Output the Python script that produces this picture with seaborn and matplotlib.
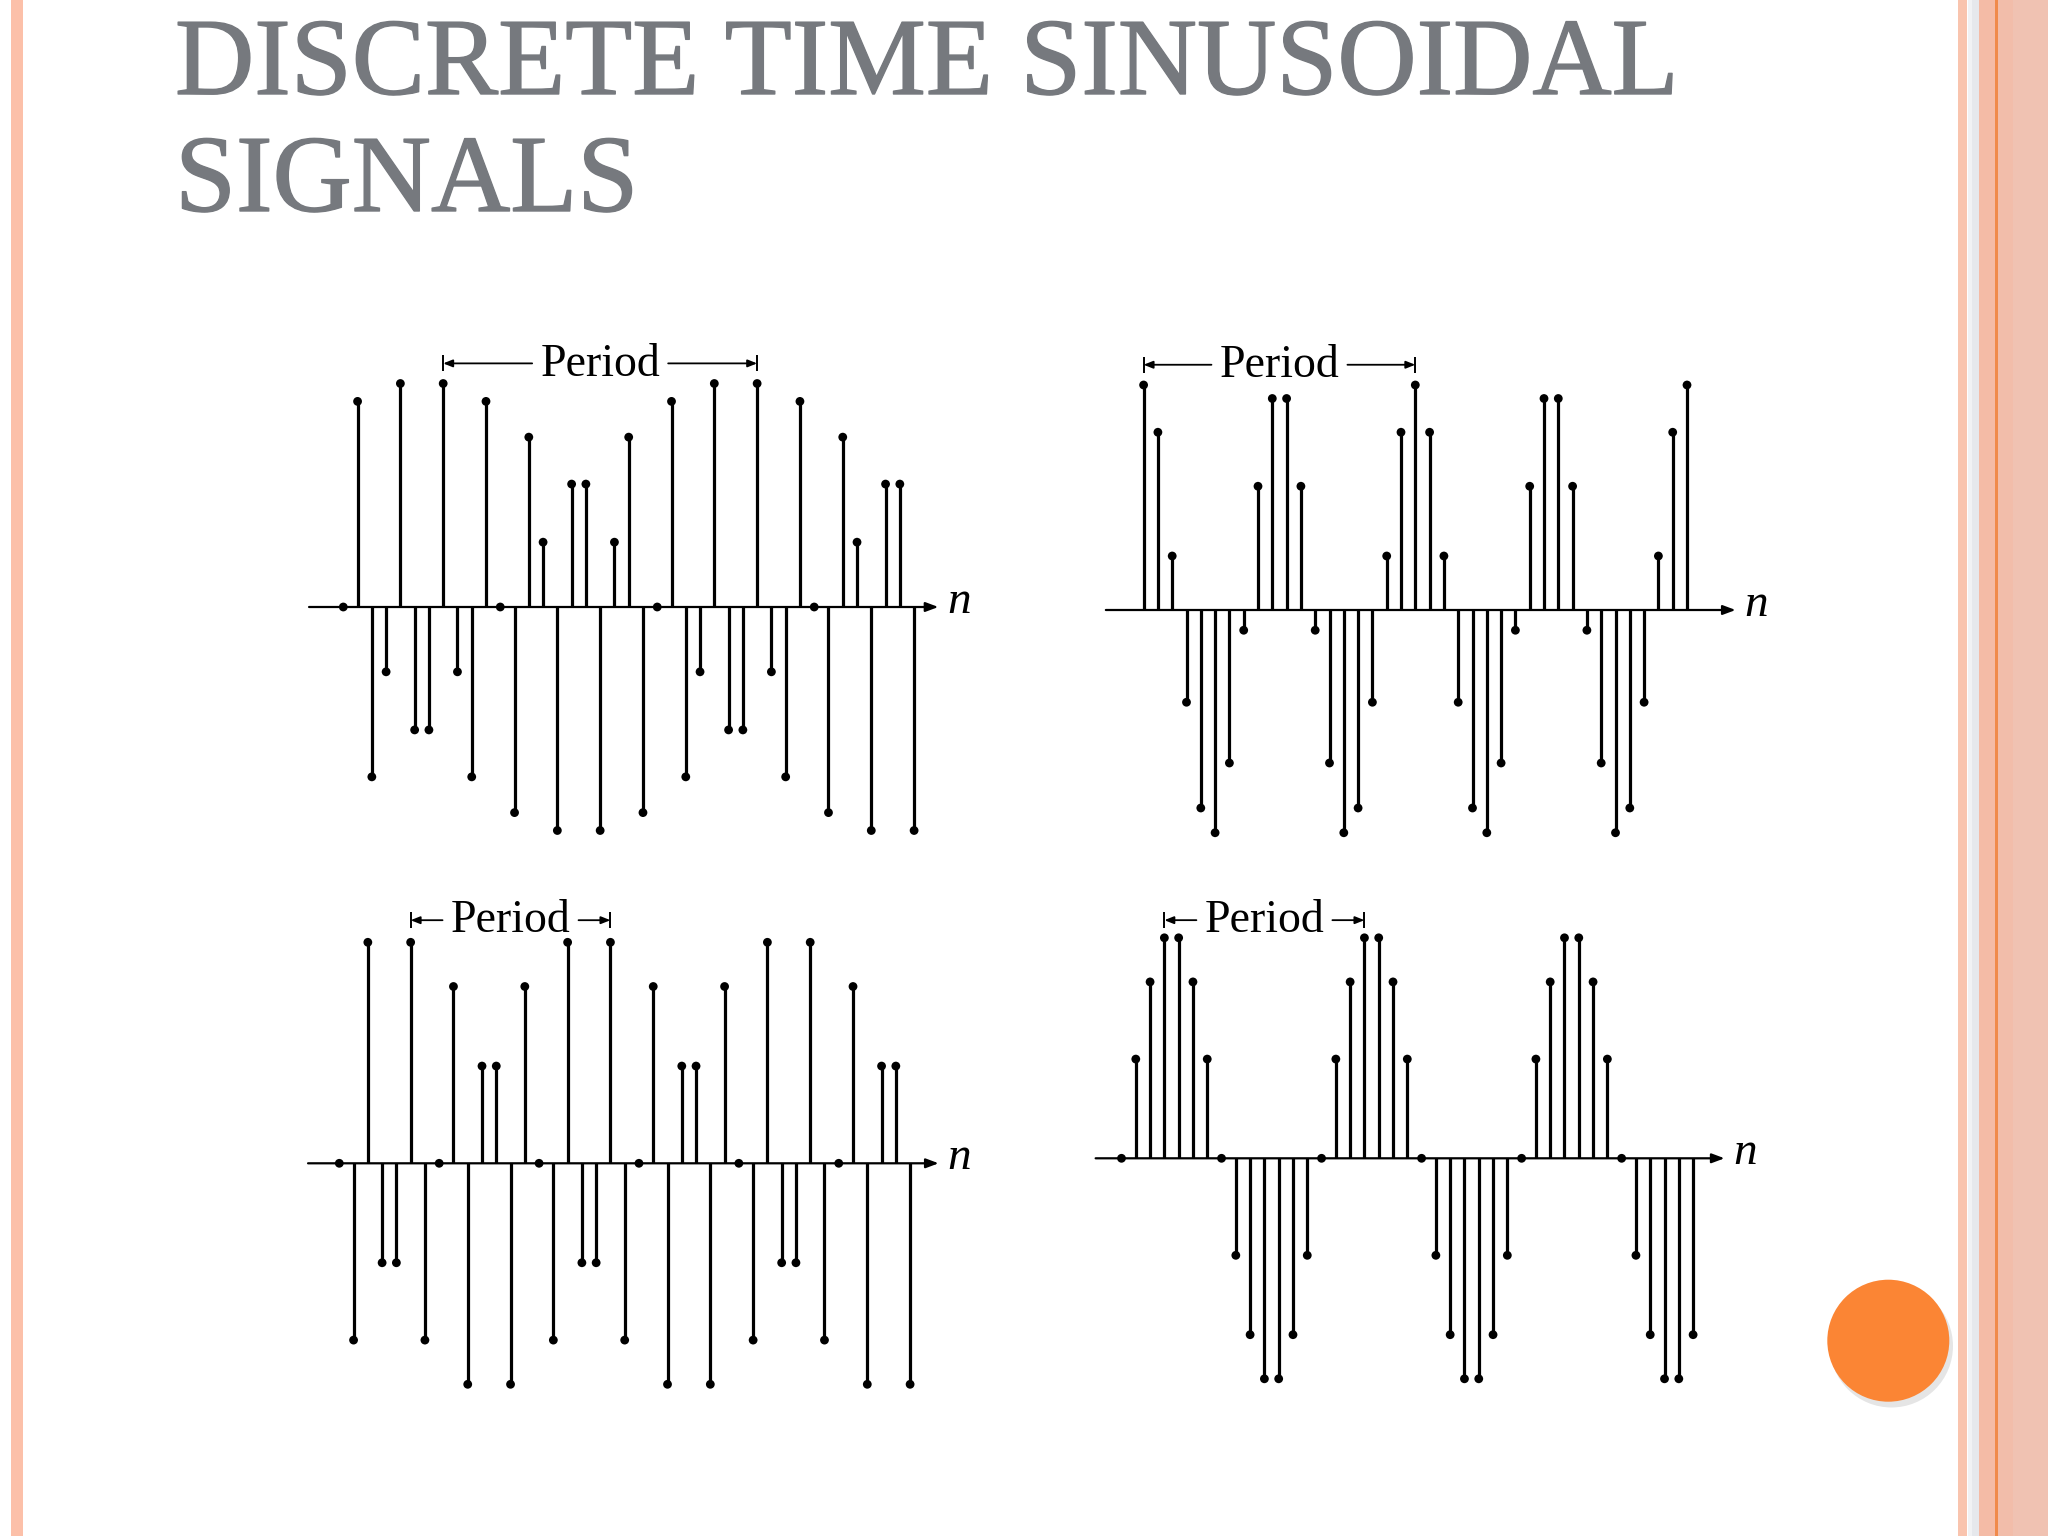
import numpy as np
import pandas as pd
import matplotlib
matplotlib.use("Agg")
import matplotlib.pyplot as plt
import matplotlib.patheffects as pe_
import seaborn as sns
from matplotlib.patches import Rectangle, Circle

sns.set_theme(style="white")
plt.rcParams["font.family"] = ["Liberation Serif", "DejaVu Serif"]

# ---------------- data ----------------
title_lines = ["DISCRETE TIME SINUSOIDAL", "SIGNALS"]
period_label = "Period"
axis_label = "n"

x_top_left = [0.0, 0.92, -0.76, -0.29, 1.0, -0.55, -0.55, 1.0, -0.29, -0.76,
              0.92, 0.0, -0.92, 0.76, 0.29, -1.0, 0.55, 0.55, -1.0, 0.29,
              0.76, -0.92, 0.0, 0.92, -0.76, -0.29, 1.0, -0.55, -0.55, 1.0,
              -0.29, -0.76, 0.92, 0.0, -0.92, 0.76, 0.29, -1.0, 0.55, 0.55,
              -1.0]
x_top_right = [1.0, 0.79, 0.24, -0.41, -0.88, -0.99, -0.68, -0.09, 0.55, 0.94,
               0.94, 0.55, -0.09, -0.68, -0.99, -0.88, -0.41, 0.24, 0.79, 1.0,
               0.79, 0.24, -0.41, -0.88, -0.99, -0.68, -0.09, 0.55, 0.94, 0.94,
               0.55, -0.09, -0.68, -0.99, -0.88, -0.41, 0.24, 0.79, 1.0]
x_bottom_left = [0.0, -0.80, 1.0, -0.45, -0.45, 1.0, -0.80, 0.0, 0.80, -1.0,
                 0.44, 0.44, -1.0, 0.80, 0.0, -0.80, 1.0, -0.45, -0.45, 1.0,
                 -0.80, 0.0, 0.80, -1.0, 0.44, 0.44, -1.0, 0.80, 0.0, -0.80,
                 1.0, -0.45, -0.45, 1.0, -0.80, 0.0, 0.80, -1.0, 0.44, 0.44,
                 -1.0]
x_bottom_right = [0.0, 0.45, 0.80, 1.0, 1.0, 0.80, 0.45, 0.0, -0.44, -0.80,
                  -1.0, -1.0, -0.80, -0.44, 0.0, 0.45, 0.80, 1.0, 1.0, 0.80,
                  0.45, 0.0, -0.44, -0.80, -1.0, -1.0, -0.80, -0.44, 0.0, 0.45,
                  0.80, 1.0, 1.0, 0.80, 0.45, 0.0, -0.44, -0.80, -1.0, -1.0,
                  -0.80]

period_top_left = [7, 29]
period_top_right = [0, 19]
period_bottom_left = [5, 19]
period_bottom_right = [3, 17]

# ---------------- layout / style ----------------
W, H = 2048, 1536
fig = plt.figure(figsize=(W / 100, H / 100), dpi=100)
fig.patch.set_facecolor("white")

panels = [
    dict(values=x_top_left, period=period_top_left,
         n0=343.3, dx=14.27, y0=607.0, amp=223.5, a0=-2.4, a1=41.7, py=1.09),
    dict(values=x_top_right, period=period_top_right,
         n0=1143.6, dx=14.30, y0=610.0, amp=225.0, a0=-2.64, a1=41.4, py=1.09),
    dict(values=x_bottom_left, period=period_bottom_left,
         n0=339.3, dx=14.27, y0=1163.3, amp=221.0, a0=-2.19, a1=42.0, py=1.10),
    dict(values=x_bottom_right, period=period_bottom_right,
         n0=1121.5, dx=14.29, y0=1158.3, amp=220.5, a0=-1.81, a1=42.2, py=1.08),
]

XLIM = (-4.0, 45.5)
YLIM = (-1.2, 1.45)


def make_axes(p):
    left = p["n0"] + XLIM[0] * p["dx"]
    right = p["n0"] + XLIM[1] * p["dx"]
    top = p["y0"] - YLIM[1] * p["amp"]
    bottom = p["y0"] - YLIM[0] * p["amp"]
    ax = fig.add_axes([left / W, 1 - bottom / H, (right - left) / W, (bottom - top) / H])
    ax.patch.set_visible(False)
    return ax


def draw_panel(ax, p):
    vals = np.asarray(p["values"], dtype=float)
    df = pd.DataFrame({"n": np.arange(len(vals)), "x": vals})
    ax.vlines(df["n"], 0, df["x"], color="black", lw=2.3, zorder=2)
    sns.scatterplot(data=df, x="n", y="x", ax=ax, s=40, color="black",
                    edgecolor="none", linewidth=0, legend=False, zorder=3)
    # horizontal axis with arrow
    ax.annotate("", xy=(p["a1"], 0), xytext=(p["a0"], 0),
                arrowprops=dict(arrowstyle="-|>,head_length=0.75,head_width=0.28",
                                color="black", lw=1.6, shrinkA=0, shrinkB=0,
                                mutation_scale=10), zorder=1)
    ax.text(p["a1"] + 0.6, -0.028, axis_label, style="italic", fontsize=34,
            ha="left", va="baseline", color="black")
    # period marker
    ps, pe = p["period"]
    mid = (ps + pe) / 2
    py = p["py"]
    half = 68.0 / p["dx"]
    ax.text(mid, py - 0.055, period_label, fontsize=33, ha="center",
            va="baseline", color="black")
    arrow_kw = dict(arrowstyle="-|>,head_length=0.55,head_width=0.22",
                    color="black", lw=1.3, shrinkA=0, shrinkB=0, mutation_scale=10)
    ax.annotate("", xy=(ps, py), xytext=(mid - half, py), arrowprops=arrow_kw)
    ax.annotate("", xy=(pe, py), xytext=(mid + half, py), arrowprops=arrow_kw)
    ax.plot([ps, pe], [py, py], ls="none", marker="|", ms=12, mew=1.4, color="black")
    ax.set_xlim(*XLIM)
    ax.set_ylim(*YLIM)
    ax.set_axis_off()


for p in panels:
    ax = make_axes(p)
    draw_panel(ax, p)

# ---------------- slide decoration ----------------
def vstripe(x0, x1, color, alpha=1.0):
    fig.add_artist(Rectangle((x0 / W, 0), (x1 - x0) / W, 1, transform=fig.transFigure,
                             facecolor=color, edgecolor="none", alpha=alpha, zorder=0))

vstripe(10.7, 23.3, "#fcc0a9")
vstripe(1958, 1967, "#f9c4ae")
vstripe(1968, 1980, "#e8eaee", 0.6)
vstripe(1972, 1980, "#dfe2e7", 0.6)
vstripe(1979, 1995, "#f4bba6")
vstripe(1995, 1998, "#f08a4b")
vstripe(1998, 2013, "#f2bdaa")
vstripe(2013, 2048, "#f0c2b2")

fig.add_artist(Circle((1891.5 / 100, (H - 1346) / 100), 0.615, transform=fig.dpi_scale_trans,
                      facecolor="black", edgecolor="none", alpha=0.10, zorder=1))
fig.add_artist(Circle((1888.3 / 100, (H - 1340.7) / 100), 0.61, transform=fig.dpi_scale_trans,
                      facecolor="#fb8534", edgecolor="none", zorder=2))

# ---------------- title ----------------
title_color = "#76797e"
stroke = [pe_.withStroke(linewidth=1.0, foreground=title_color)]
fig.text(175 / W, 1 - 94 / H, title_lines[0], fontsize=79, color=title_color,
         ha="left", va="baseline", path_effects=stroke)
fig.text(175 / W, 1 - 211 / H, title_lines[1], fontsize=79, color=title_color,
         ha="left", va="baseline", path_effects=stroke)

fig.savefig("out.png", dpi=100)
